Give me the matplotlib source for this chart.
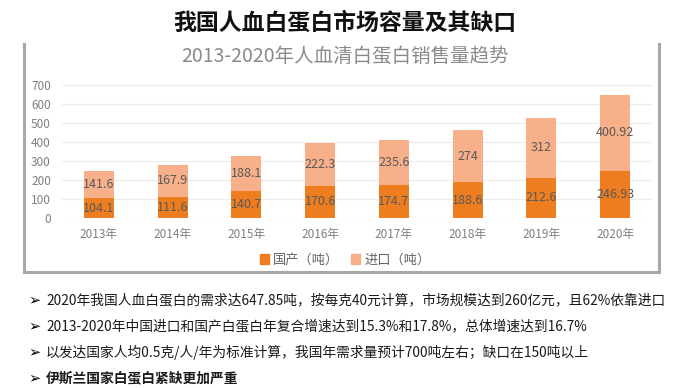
import matplotlib
matplotlib.use("Agg")
import matplotlib.pyplot as plt
from matplotlib.lines import Line2D
from matplotlib.patches import Patch
import numpy as np

plt.rcParams['font.family'] = ['Noto Sans CJK SC', 'DejaVu Sans']

years = ["2013年", "2014年", "2015年", "2016年", "2017年", "2018年", "2019年", "2020年"]
domestic = [104.1, 111.6, 140.7, 170.6, 174.7, 188.6, 212.6, 246.93]
imported = [141.6, 167.9, 188.1, 222.3, 235.6, 274, 312, 400.92]
domestic_labels = ["104.1", "111.6", "140.7", "170.6", "174.7", "188.6", "212.6", "246.93"]
imported_labels = ["141.6", "167.9", "188.1", "222.3", "235.6", "274", "312", "400.92"]
yticks = [0, 100, 200, 300, 400, 500, 600, 700]
series_names = ["国产（吨）", "进口（吨）"]

title = "我国人血白蛋白市场容量及其缺口"
subtitle = "2013-2020年人血清白蛋白销售量趋势"
bullets = [
    "2020年我国人血白蛋白的需求达647.85吨，按每克40元计算，市场规模达到260亿元，且62%依靠进口",
    "2013-2020年中国进口和国产白蛋白年复合增速达到15.3%和17.8%，总体增速达到16.7%",
    "以发达国家人均0.5克/人/年为标准计算，我国年需求量预计700吨左右；缺口在150吨以上",
    "伊斯兰国家白蛋白紧缺更加严重",
]

c_dom = "#ED7D1E"
c_imp = "#F8B08A"
c_lab = "#5a5a5a"
c_tick = "#7f7f7f"

W, H = 690, 388
fig = plt.figure(figsize=(W / 100, H / 100), dpi=100)

def fx(px):
    return px / W

def fy(py):
    return 1 - py / H

# panel frame (left, bottom, right)
frame_c = "#a8a8a8"
fig.add_artist(Line2D([fx(24), fx(24), fx(659), fx(659)],
                      [fy(44), fy(272), fy(272), fy(44)],
                      color=frame_c, lw=2.2, transform=fig.transFigure, solid_joinstyle='miter'))

fig.text(0.5, fy(23), title, ha='center', va='center', fontsize=16.5, fontweight='bold', color='#111111')
fig.text(0.5, fy(56), subtitle, ha='center', va='center', fontsize=14, color='#8a8a8a')

ax = fig.add_axes([fx(62), fy(218), fx(652) - fx(62), (218 - 85) / H])
x = np.arange(len(years))
bw = 0.41
ax.bar(x, domestic, bw, color=c_dom, label=series_names[0], zorder=3)
ax.bar(x, imported, bw, bottom=domestic, color=c_imp, label=series_names[1], zorder=3)
for i in range(len(years)):
    ax.text(x[i], domestic[i] / 2, domestic_labels[i], ha='center', va='center',
            fontsize=9, color=c_lab, zorder=4)
    ax.text(x[i], domestic[i] + imported[i] / 2, imported_labels[i], ha='center', va='center',
            fontsize=9, color=c_lab, zorder=4)

ax.set_xlim(-0.5, len(years) - 0.5)
ax.set_ylim(0, 700)
ax.set_yticks(yticks)
ax.set_xticks(x)
ax.set_xticklabels(years)
ax.tick_params(axis='both', length=0, labelsize=8.5, colors=c_tick)
ax.tick_params(axis='y', pad=8)
ax.tick_params(axis='x', pad=7)
ax.grid(axis='y', color='#ececec', lw=0.8, zorder=0)
for s in ax.spines.values():
    s.set_visible(False)

handles = [Patch(color=c_dom), Patch(color=c_imp)]
fig.legend(handles, series_names, loc='center', bbox_to_anchor=(fx(345), fy(260)), ncol=2,
           frameon=False, fontsize=9.5, handlelength=0.7, handleheight=0.7, handletextpad=0.3,
           columnspacing=0.9, labelcolor='#666666')

ys = [300, 326, 352, 378]
for i, (b, yy) in enumerate(zip(bullets, ys)):
    fig.text(fx(28), fy(yy), "➢", ha='left', va='center', fontsize=10.5, color='#000000',
             family=['DejaVu Sans'])
    fig.text(fx(46), fy(yy), b, ha='left', va='center', fontsize=9.9, color='#1a1a1a',
             fontweight='bold' if i == 3 else 'normal')

fig.savefig("out.png", dpi=100, facecolor='white')
